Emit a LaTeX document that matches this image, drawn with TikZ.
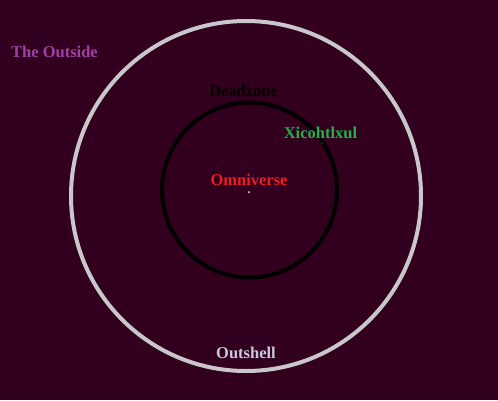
\documentclass[tikz,border=0pt]{standalone}
\usepackage{fontspec}
\setmainfont{Liberation Serif}
\begin{document}
\begin{tikzpicture}[x=1pt,y=-1pt,
  lbl/.style={font=\bfseries\fontsize{16.5}{18}\selectfont, inner sep=0pt},
  ring/.style={line width=4pt}]
\definecolor{bgc}{HTML}{32001E}
\definecolor{outc}{HTML}{A040A8}
\definecolor{greenc}{HTML}{22B04A}
\definecolor{redc}{HTML}{EC1C24}
\definecolor{shellc}{HTML}{C8C8CC}
\definecolor{shelltxt}{HTML}{C8C8DC}
\fill[bgc] (0,0) rectangle (498,400);
\useasboundingbox (0,0) rectangle (498,400);
\node[draw=shellc, ring, circle, minimum size=350pt, inner sep=0pt] (outshell) at (246,196) {};
\node[draw=black, ring, circle, minimum size=175pt, inner sep=0pt] (deadzone) at (249.5,190) {};
\node[lbl, text=outc] (outside) at (54.5,52) {The Outside};
\node[lbl, text=black] (dz) at (243.5,91) {Deadzone};
\node[lbl, text=greenc] (xic) at (320.5,133) {Xicohtlxul};
\node[lbl, text=redc] (omni) at (249,180) {Omniverse};
\node[lbl, text=shelltxt] (osl) at (246,353) {Outshell};
\fill[white!80!pink] (249,192) circle (1pt);
\fill[greenc] (322,143) circle (0.7pt);
\end{tikzpicture}
\end{document}
